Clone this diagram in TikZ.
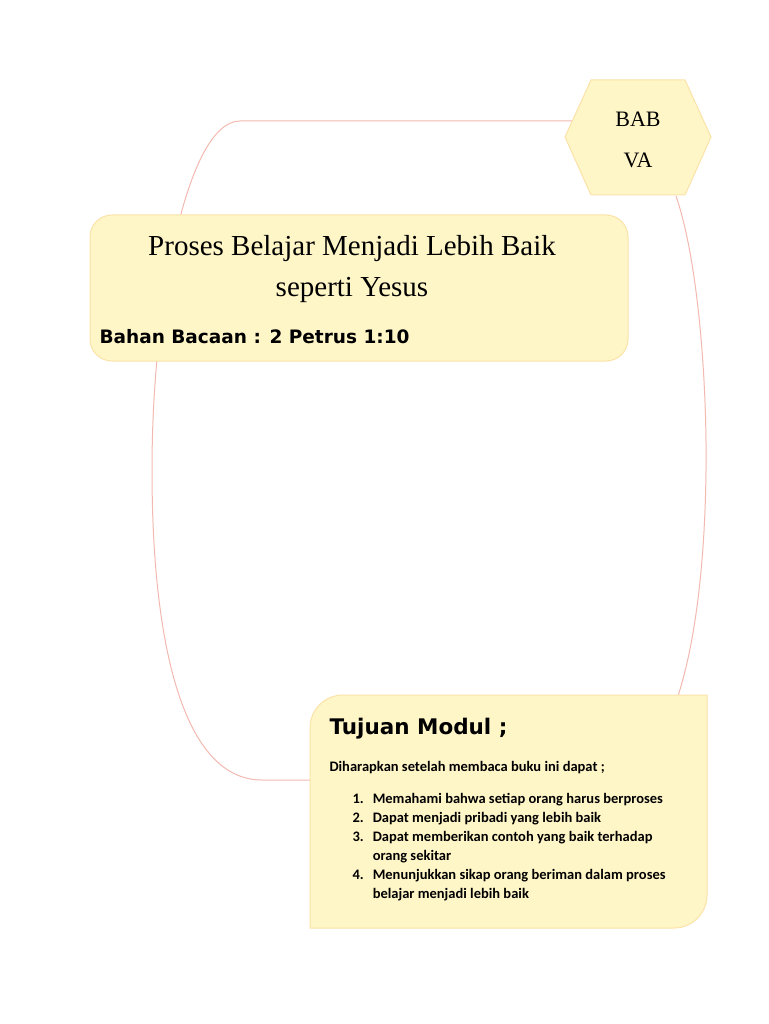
\documentclass[tikz,border=0pt]{standalone}
\usepackage{fontspec}
\setmainfont{Liberation Serif}
\newfontfamily\carl{Carlito}
\newfontfamily\dvs{DejaVu Sans}
\definecolor{boxfill}{HTML}{FFF6C8}
\definecolor{boxline}{HTML}{FBE3A8}
\definecolor{linkc}{HTML}{F3B9B0}
\tikzset{link/.style={draw=linkc,line width=1pt},
 shapebox/.style={fill=boxfill,draw=boxline,line width=1pt}}
\begin{document}
\begin{tikzpicture}[x=1pt,y=-1pt]
\useasboundingbox (0,0) rectangle (768,1024);
\fill[white] (0,0) rectangle (768,1024);
% connectors
\coordinate (h1) at (577,121);
\coordinate (h2) at (676,196);
\coordinate (b1) at (312,780);
\coordinate (b2) at (678,696);
\draw[link] (h1) -- (240,121) .. controls (188,121) and (152,300) .. (152,470) .. controls (152,650) and (185,780) .. (262,780) -- (b1);
\draw[link] (h2) .. controls (698,260) and (707,380) .. (706,470) .. controls (705,560) and (696,640) .. (b2);
% hexagon
\draw[shapebox] (565,137) -- (591,80) -- (685,80) -- (711,137) -- (685,195) -- (591,195) -- cycle;
\node (bab) at (638,119) {\fontsize{22}{26}\selectfont BAB};
\node (va) at (638,160) {\fontsize{22}{26}\selectfont VA};
% title box
\draw[shapebox,rounded corners=22pt] (90,215) rectangle (628,361);
\node[align=center,font=\fontsize{29}{41}\selectfont] (title) at (352,269) {Proses Belajar Menjadi Lebih Baik\\seperti Yesus};
\node[anchor=west] (bahan) at (96,337) {\dvs\bfseries\fontsize{18.5}{22}\selectfont Bahan Bacaan : 2 Petrus 1:10};
% bottom box
\draw[shapebox] (310,928) -- (310,728) arc[start angle=180,end angle=270,radius=33] -- (707,695) -- (707,895) arc[start angle=0,end angle=90,radius=33] -- cycle;
\node[anchor=west] (tuj) at (326,729) {\dvs\bfseries\fontsize{21.5}{24}\selectfont Tujuan Modul ;};
\node[anchor=west] (dih) at (326,768) {\carl\bfseries\fontsize{14.5}{17}\selectfont Diharapkan setelah membaca buku ini dapat ;};
\node[anchor=north west,align=left,font=\carl\bfseries\fontsize{14.5}{19}\selectfont] (list) at (349,787) {%
\begin{tabular}{@{}l@{\hspace{9pt}}l@{}}
1. & Memahami bahwa setiap orang harus berproses\\
2. & Dapat menjadi pribadi yang lebih baik\\
3. & Dapat memberikan contoh yang baik terhadap\\
 & orang sekitar\\
4. & Menunjukkan sikap orang beriman dalam proses\\
 & belajar menjadi lebih baik
\end{tabular}};
\end{tikzpicture}
\end{document}
